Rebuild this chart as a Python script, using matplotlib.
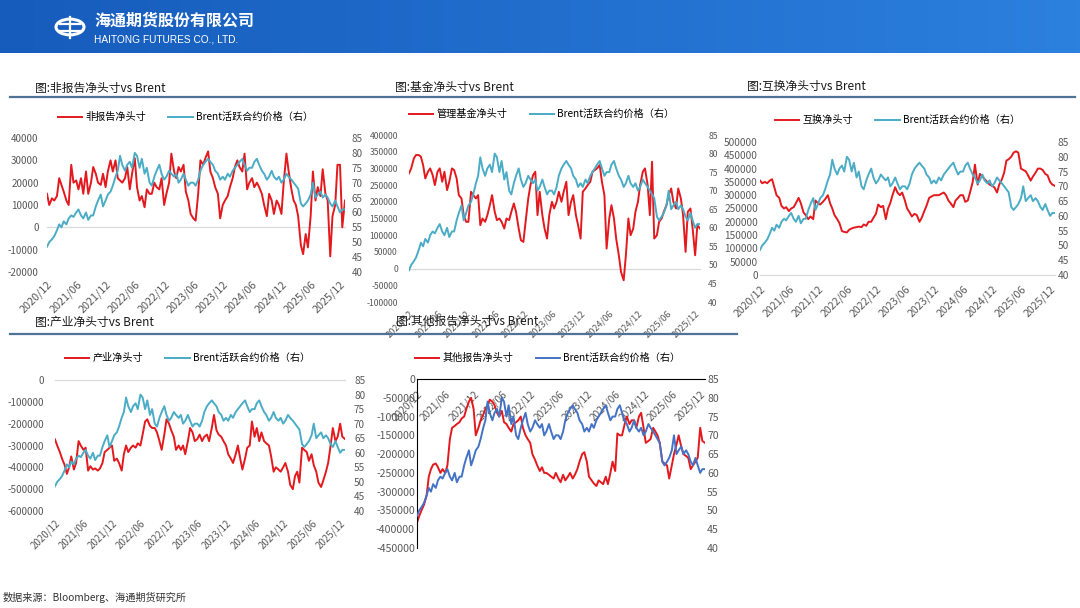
import matplotlib
matplotlib.use('Agg')
import matplotlib.pyplot as plt
from matplotlib.lines import Line2D
from matplotlib.patches import Circle
import numpy as np
import pandas as pd

plt.rcParams['font.family'] = ['Noto Sans CJK SC', 'DejaVu Sans']
plt.rcParams['axes.unicode_minus'] = False

W, H = 1080, 608

# semi-monthly points, 2020/12 -> 2026/01
dates = pd.date_range('2020-12-01', periods=123, freq='SMS')
tick_dates = pd.date_range('2020-12-01', '2025-12-01', freq='6MS')
tick_labels = [d.strftime('%Y/%m') for d in tick_dates]

brent = [48.5, 50, 51, 52, 54, 56, 55, 57, 56, 58,
         59, 58.5, 60, 61, 59, 58, 60, 57.5, 59, 59,
         62, 64, 66, 62, 64, 66, 67, 69, 72, 74,
         79, 76, 74, 76, 77, 75, 80, 79, 75, 78,
         73, 75, 70, 69, 72, 74, 76, 73, 71, 72,
         74, 73, 72, 73, 70, 71, 73, 71, 69, 70,
         70, 69, 71, 74, 76, 77, 78, 77, 76, 74,
         73, 71, 72, 71, 73, 72, 74, 75, 76, 77,
         78, 76, 74, 75, 75, 77, 78, 76, 74, 73,
         71, 72, 74, 72, 71, 72, 70, 71, 73, 72,
         71, 70, 69, 68, 63, 62, 63, 64, 66, 70,
         65, 66, 67, 65, 66, 65, 63, 62, 64, 62,
         60, 61, 61]

nonrep = [15000, 10000, 13000, 12000, 14000, 22000, 19000, 16000, 12000, 10000,
          28000, 20000, 21000, 17000, 22000, 15000, 25000, 15000, 20000, 27000,
          24000, 20000, 19000, 24000, 18000, 25000, 30000, 25000, 30000, 22000,
          21000, 20000, 22000, 27000, 17000, 24000, 31000, 18000, 12000, 14000,
          9000, 17000, 15000, 15000, 20000, 18000, 17000, 22000, 10000, 15000,
          20000, 33000, 25000, 22000, 27000, 25000, 28000, 16000, 12000, 6000,
          4000, 3000, 15000, 30000, 28000, 31000, 34000, 25000, 22000, 18000,
          15000, 4000, 10000, 12000, 14000, 18000, 22000, 27000, 30000, 27000,
          25000, 33000, 17000, 20000, 22000, 18000, 20000, 18000, 15000, 10000,
          5000, 15000, 12000, 6000, 12000, 10000, 6000, 20000, 33000, 25000,
          17000, 12000, 10000, 5000, -8000, -12000, -3000, -9000, 5000, 25000,
          12000, 18000, 14000, 26000, 15000, 12000, -13000, 5000, 10000, 28000,
          28000, 0, 12000]

managed = [285000, 300000, 330000, 340000, 340000, 335000, 310000, 270000, 290000, 300000,
           280000, 250000, 290000, 300000, 260000, 290000, 235000, 260000, 300000, 295000,
           270000, 220000, 210000, 160000, 140000, 140000, 230000, 220000, 210000, 220000,
           130000, 150000, 140000, 160000, 190000, 220000, 170000, 145000, 150000, 140000,
           120000, 150000, 145000, 170000, 195000, 170000, 120000, 85000, 80000, 140000,
           210000, 250000, 280000, 290000, 160000, 230000, 160000, 120000, 90000, 160000,
           200000, 180000, 200000, 230000, 200000, 230000, 260000, 160000, 200000, 220000,
           160000, 130000, 90000, 230000, 240000, 250000, 260000, 290000, 295000, 300000,
           310000, 260000, 220000, 60000, 150000, 190000, 150000, 90000, 40000, -10000,
           -35000, 40000, 150000, 100000, 120000, 170000, 200000, 250000, 290000, 300000,
           250000, 160000, 320000, 90000, 100000, 140000, 150000, 170000, 190000, 220000,
           240000, 200000, 180000, 240000, 210000, 160000, 50000, 170000, 180000, 120000,
           40000, 130000, 120000]

swap = [355000, 345000, 350000, 345000, 355000, 360000, 330000, 300000, 290000, 260000,
        250000, 255000, 240000, 250000, 255000, 270000, 290000, 270000, 235000, 225000,
        210000, 220000, 210000, 280000, 270000, 265000, 275000, 285000, 300000, 270000,
        250000, 225000, 210000, 195000, 165000, 162000, 160000, 170000, 175000, 178000,
        180000, 182000, 180000, 190000, 185000, 200000, 200000, 215000, 230000, 265000,
        255000, 260000, 210000, 250000, 270000, 300000, 330000, 310000, 300000, 310000,
        280000, 250000, 235000, 220000, 230000, 225000, 200000, 215000, 240000, 260000,
        290000, 295000, 300000, 300000, 300000, 305000, 310000, 300000, 280000, 270000,
        255000, 280000, 290000, 300000, 300000, 275000, 280000, 310000, 350000, 415000,
        340000, 380000, 370000, 360000, 350000, 340000, 335000, 330000, 310000, 340000,
        360000, 385000, 430000, 435000, 445000, 460000, 465000, 460000, 400000, 395000,
        390000, 375000, 355000, 370000, 385000, 400000, 400000, 395000, 380000, 375000,
        350000, 340000, 335000]

producer = [-272000, -300000, -330000, -360000, -390000, -430000, -400000, -350000, -410000, -380000,
            -280000, -300000, -320000, -310000, -415000, -395000, -410000, -405000, -415000, -405000,
            -380000, -330000, -320000, -310000, -300000, -370000, -360000, -380000, -415000, -340000,
            -300000, -330000, -310000, -300000, -310000, -290000, -300000, -250000, -190000, -180000,
            -210000, -220000, -220000, -240000, -280000, -320000, -250000, -180000, -200000, -230000,
            -260000, -320000, -300000, -320000, -300000, -340000, -280000, -220000, -240000, -280000,
            -270000, -250000, -280000, -260000, -250000, -280000, -220000, -160000, -230000, -250000,
            -260000, -280000, -300000, -340000, -360000, -380000, -340000, -300000, -360000, -410000,
            -360000, -310000, -300000, -190000, -260000, -220000, -280000, -240000, -280000, -290000,
            -300000, -350000, -420000, -400000, -410000, -420000, -400000, -380000, -420000, -480000,
            -500000, -440000, -420000, -470000, -310000, -320000, -330000, -370000, -340000, -390000,
            -420000, -470000, -490000, -460000, -420000, -380000, -300000, -220000, -280000, -260000,
            -200000, -260000, -270000]

other = [-383000, -365000, -348000, -335000, -310000, -260000, -240000, -228000, -225000, -235000,
         -250000, -240000, -250000, -230000, -160000, -130000, -125000, -120000, -115000, -105000,
         -100000, -80000, -60000, -50000, -80000, -150000, -130000, -110000, -95000, -80000,
         -70000, -55000, -60000, -70000, -90000, -100000, -85000, -115000, -120000, -130000,
         -140000, -120000, -115000, -110000, -100000, -130000, -150000, -160000, -170000, -200000,
         -215000, -230000, -245000, -235000, -250000, -250000, -255000, -260000, -265000, -250000,
         -265000, -275000, -255000, -270000, -260000, -250000, -265000, -255000, -240000, -220000,
         -200000, -195000, -220000, -260000, -270000, -278000, -285000, -270000, -275000, -280000,
         -260000, -280000, -250000, -220000, -245000, -145000, -150000, -150000, -120000, -100000,
         -120000, -110000, -110000, -130000, -100000, -90000, -130000, -170000, -165000, -160000,
         -130000, -140000, -150000, -170000, -220000, -225000, -230000, -265000, -230000, -200000,
         -175000, -150000, -180000, -200000, -205000, -210000, -240000, -230000, -220000, -210000,
         -130000, -165000, -170000]

RED = '#E3191E'
TEAL = '#4BACC6'
BLUE = '#4472C4'
GREY = '#595959'
BRENT_LABEL = 'Brent活跃合约价格（右）'

fig = plt.figure(figsize=(W / 100, H / 100), dpi=100)
fig.patch.set_facecolor('white')


def fx(x):
    return x / W


def fy(y):
    return 1 - y / H


# header band
hdr = fig.add_axes([0, fy(53), 1, 53 / H])
grad = np.linspace(0, 1, 256)
c0 = np.array([22, 92, 188]) / 255
c1 = np.array([44, 128, 222]) / 255
img = c0[None, :] + (c1 - c0)[None, :] * grad[:, None]
hdr.imshow(img[None, :, :], aspect='auto', extent=[0, 1, 0, 1])
hdr.axis('off')
fig.add_artist(Circle((fx(70), fy(27)), 14 / W, transform=fig.transFigure,
                      fill=False, ec='white', lw=2.2))
fig.add_artist(Line2D([fx(60), fx(80)], [fy(24), fy(24)], color='white', lw=1.6))
fig.add_artist(Line2D([fx(60), fx(80)], [fy(31), fy(31)], color='white', lw=1.6))
fig.add_artist(Line2D([fx(70), fx(70)], [fy(17), fy(38)], color='white', lw=1.6))
fig.text(fx(94), fy(21), '海通期货股份有限公司', color='white', fontsize=11.5,
         fontweight='bold', va='center', ha='left')
fig.text(fx(94), fy(39), 'HAITONG FUTURES CO., LTD.', color='white', fontsize=7.3,
         family='Liberation Sans', va='center', ha='left')

# section rules
fig.add_artist(Line2D([fx(10), fx(1075)], [fy(97), fy(97)], color='#4f7396', lw=1.6))
fig.add_artist(Line2D([fx(10), fx(737)], [fy(334), fy(334)], color='#4f7396', lw=1.6))


def panel(box, vals, lo, hi, step, name, bcol, pads, sizes, leg, title, title_xy,
          axis_at_zero=False):
    x0, x1, yt, yb = box
    ax = fig.add_axes([fx(x0), fy(yb), (x1 - x0) / W, (yb - yt) / H])
    ax.set_facecolor('none')
    for s in ax.spines.values():
        s.set_visible(False)
    if axis_at_zero:
        # horizontal axis crosses at 0 (top edge), labels sit under it
        ax.spines['bottom'].set_position(('data', 0))
        ax.spines['bottom'].set_visible(True)
        ax.spines['bottom'].set_color('black')
        ax.spines['left'].set_visible(True)
        ax.spines['left'].set_color('black')
    l1, = ax.plot(dates, vals, color=RED, lw=1.4)
    ax.set_xlim(dates[0], dates[-1])
    ax.set_ylim(lo, hi)
    ax.set_yticks(np.arange(lo, hi + 1, step))
    ax.set_xticks(tick_dates)
    ax.set_xticklabels(tick_labels, rotation=45, ha='right', va='top',
                       rotation_mode='anchor')
    if not axis_at_zero:
        ax.axhline(0, color='#d9d9d9', lw=0.9, clip_on=False, zorder=0)
    ax.tick_params(axis='y', length=0, labelsize=sizes[0], colors=GREY, pad=pads[0])
    ax.tick_params(axis='x', length=0, labelsize=sizes[1], colors=GREY, pad=pads[2])

    ax2 = ax.twinx()
    ax2.set_facecolor('none')
    l2, = ax2.plot(dates, brent, color=bcol, lw=1.4)
    ax2.set_ylim(40, 85)
    ax2.set_yticks(np.arange(40, 86, 5))
    for s in ax2.spines.values():
        s.set_visible(False)
    ax2.tick_params(axis='y', length=0, labelsize=sizes[0], colors=GREY, pad=pads[1])

    fig.legend(handles=[l1, l2], labels=[name, BRENT_LABEL], loc='center left',
               bbox_to_anchor=(fx(leg[0]), fy(leg[1])), bbox_transform=fig.transFigure,
               ncol=2, frameon=False, fontsize=7.3, handlelength=2.4,
               handletextpad=0.3, columnspacing=2.2, borderpad=0, borderaxespad=0)
    fig.text(fx(title_xy[0]), fy(title_xy[1]), title, fontsize=8.5, color='#1a1a1a',
             va='center', ha='left')
    return ax, ax2


panel((47, 345, 138, 272), nonrep, -20000, 40000, 10000, '非报告净头寸', TEAL,
      (6, 5, 5), (7.1, 7.8), (58, 117), '图:非报告净头寸vs Brent', (35, 88))
panel((409, 700, 135, 302), managed, -100000, 400000, 50000, '管理基金净头寸', TEAL,
      (8, 6, 5), (6.2, 6.6), (409, 114), '图:基金净头寸vs Brent', (395, 87))
panel((760, 1055, 142, 275), swap, 0, 500000, 50000, '互换净头寸', TEAL,
      (1.5, 2, 6), (7.3, 7.6), (775, 120), '图:互换净头寸vs Brent', (747, 86))
panel((55, 345, 380, 511), producer, -600000, 0, 100000, '产业净头寸', TEAL,
      (8, 6.5, 5), (7.2, 7.0), (65, 358), '图:产业净头寸vs Brent', (35, 322))
panel((417, 705, 379, 548), other, -450000, 0, 50000, '其他报告净头寸', BLUE,
      (1.5, 1.5, 7), (7.6, 7.3), (415, 358), '图:其他报告净头寸vs Brent', (396, 321),
      axis_at_zero=True)

fig.text(fx(3), fy(597), '数据来源：Bloomberg、海通期货研究所', fontsize=7.3,
         color='#333333', va='center', ha='left')

fig.savefig('out.png', dpi=100)
